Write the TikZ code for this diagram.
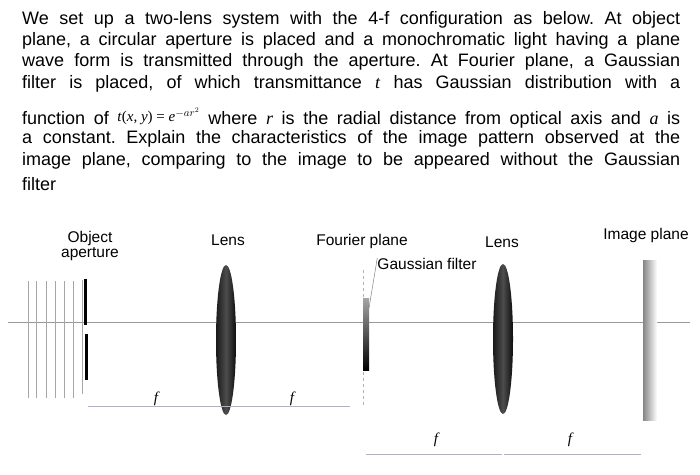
\documentclass[tikz,border=0pt]{standalone}
\usepackage{fontspec}
\setmainfont{Liberation Sans}
\usetikzlibrary{shapes.geometric}
\begin{document}
\frenchspacing
\begin{tikzpicture}[x=1pt,y=-1pt,
  txt/.style={anchor=west,inner sep=0pt,font=\fontsize{18}{20}\selectfont\frenchspacing},
  lbl/.style={font=\fontsize{15.5}{17}\selectfont,align=center,inner sep=0pt},
  flab/.style={font=\fontsize{15}{16}\selectfont\fontspec{Liberation Serif}\itshape,inner sep=0pt},
  dim/.style={draw=blue!25!gray!50,line width=0.6pt},
  wave/.style={draw=gray!70,line width=0.6pt},
  lens/.style={ellipse,minimum width=20pt,minimum height=150pt,inner sep=0pt,left color=black!90,right color=black!95,middle color=black!70}]
\useasboundingbox (0,0) rectangle (700,474);
\node[txt] (l1) at (22,20) {\makebox[658pt][s]{We set up a two-lens system with the 4-f configuration as below. At object}};
\node[txt] (l2) at (22,41) {\makebox[658pt][s]{plane, a circular aperture is placed and a monochromatic light having a plane}};
\node[txt] (l3) at (22,62) {\makebox[658pt][s]{wave form is transmitted through the aperture. At Fourier plane, a Gaussian}};
\node[txt] (l4) at (22,84) {\makebox[658pt][s]{filter is placed, of which transmittance \textit{\fontspec{Liberation Serif}t} has Gaussian distribution with a}};
\node[txt] (l5) at (22,118) {\makebox[658pt][s]{function of {\fontspec{Liberation Serif}\fontsize{15}{16}\selectfont\raisebox{3pt}{\textit{t}(\textit{x}, \textit{y}) = \textit{e}$^{-ar^2}$}} where {\fontspec{Liberation Serif}\textit{r}} is the radial distance from optical axis and {\fontspec{Liberation Serif}\textit{a}} is}};
\node[txt] (l6) at (22,139) {\makebox[658pt][s]{a constant. Explain the characteristics of the image pattern observed at the}};
\node[txt] (l7) at (22,161) {\makebox[658pt][s]{image plane, comparing to the image to be appeared without the Gaussian}};
\node[txt] (l8) at (22,184) {filter};
% axis
\coordinate (axL) at (8,322); \coordinate (axR) at (690,322);
\draw[gray!80,line width=0.8pt] (axL) -- (axR);
% wavefronts
\foreach \x in {28,36,46,55,64,73} \draw[wave] (\x,281) -- (\x,398);
\draw[wave] (82,280) -- (82,394);
\fill[black] (84,279) rectangle (87,325);
\fill[black] (85,334) rectangle (88,380);
% lens 1 and 2
\node[lens] (lens1) at (226,340) {};
\node[lens] (lens2) at (503,339) {};
% Fourier plane
\coordinate (fpT) at (363,270); \coordinate (fpB) at (363,408);
\draw[gray!60,dashed,line width=0.6pt] (fpT) -- (fpB);
\shade[top color=gray!70,bottom color=black] (363,298) rectangle (369,370);
\coordinate (gfA) at (369,308);
% image plane
\shade[left color=gray!95,right color=white] (643,260) rectangle (657,420);
% labels
\node[lbl] (oa) at (90,246) {Object\\[-2pt]aperture};
\node[lbl] (ln1) at (228,240) {Lens};
\node[lbl] (fp) at (362,241) {Fourier plane};
\node[lbl] (gf) at (427,264) {Gaussian filter};
\node[lbl] (ln2) at (502,242) {Lens};
\node[lbl] (ip) at (646,235) {Image plane};
\draw[gray,line width=0.5pt] (gfA) -- (gf.north west);
% dimension lines
\coordinate (d1) at (88,406); \coordinate (d2) at (350,406);
\draw[dim] (d1) -- (d2);
\node[flab] (f1) at (156,399) {f};
\node[flab] (f2) at (292,399) {f};
\coordinate (d3) at (366,454); \coordinate (d4) at (502,454);
\coordinate (d5) at (504,454); \coordinate (d6) at (641,454);
\draw[dim] (d3) -- (d4);
\draw[dim] (d5) -- (d6);
\node[flab] (f3) at (436,440) {f};
\node[flab] (f4) at (570,440) {f};
\end{tikzpicture}
\end{document}
